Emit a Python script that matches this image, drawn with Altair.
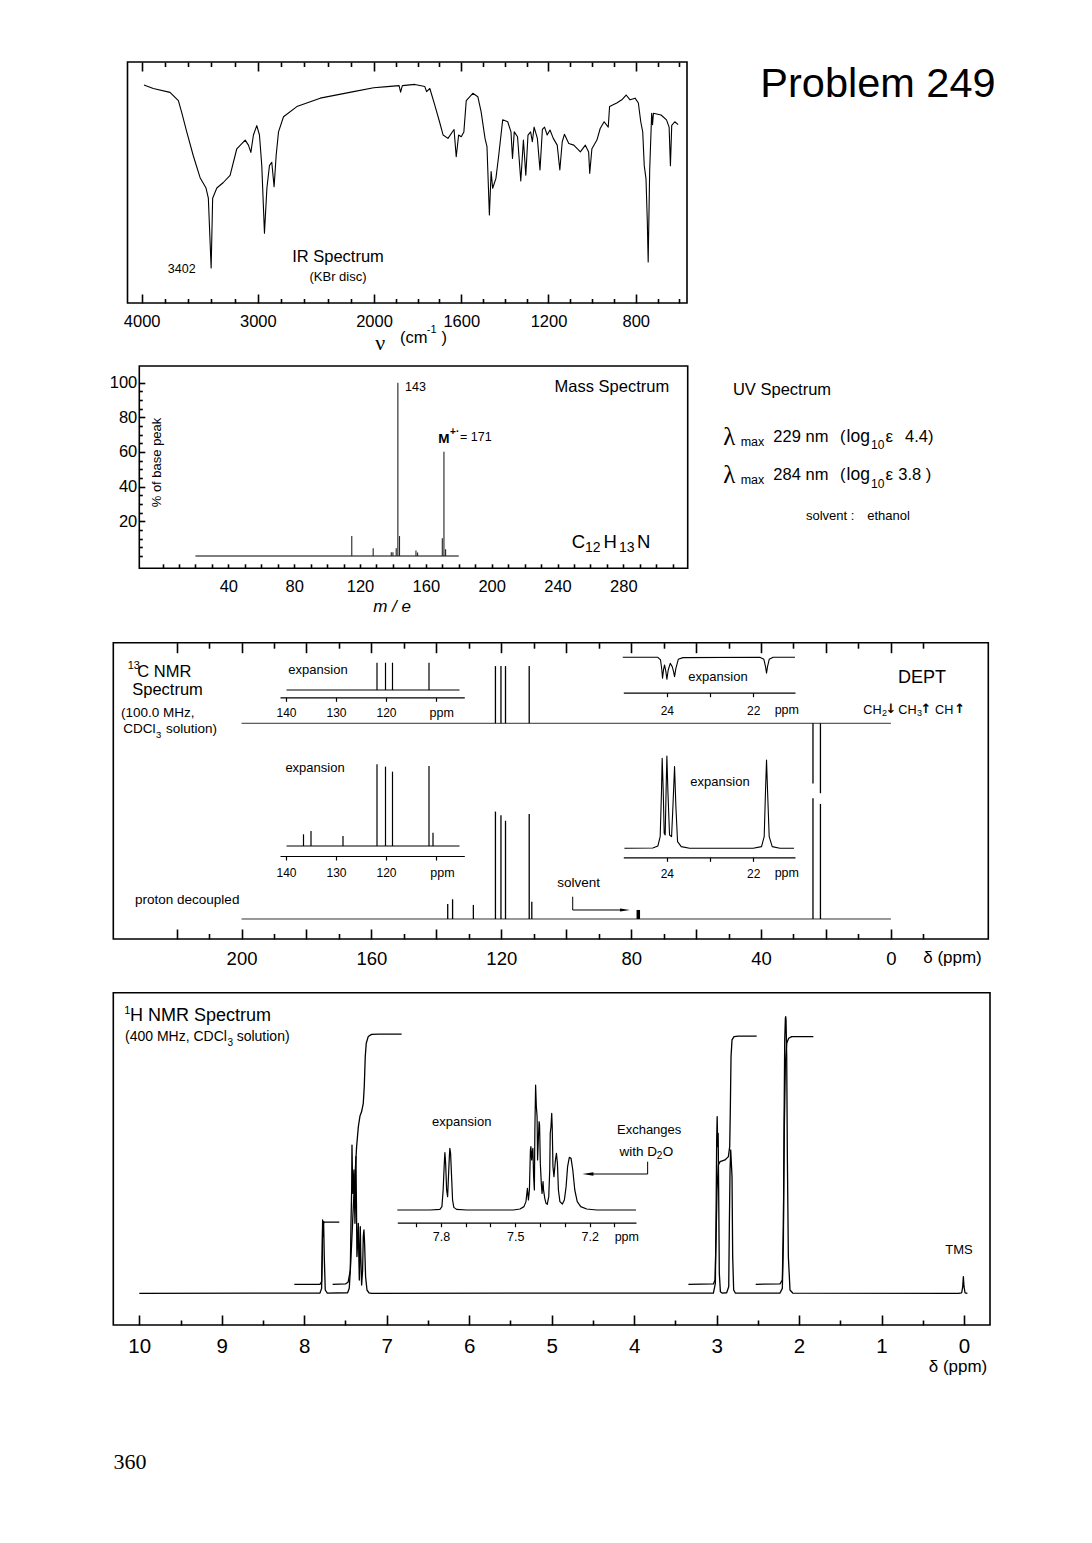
import altair as alt
import pandas as pd

FONT = "Liberation Sans, Arial, Helvetica, sans-serif"
SERIF = "Liberation Serif, Times New Roman, serif"
SYM = "DejaVu Sans, Liberation Sans, sans-serif"
W, H = 1076, 1527

# ======================= DATA =======================
# IR spectrum (wavenumber cm-1, %T)
ir_wn = [3980, 3900, 3756, 3684, 3655, 3612, 3555, 3497, 3446, 3426,
         3402, 3389, 3353, 3297, 3239, 3181, 3109, 3081, 3060, 3038,
         3009, 2986, 2966, 2943, 2922, 2900, 2880, 2860, 2842, 2822,
         2779, 2664, 2463, 2176, 2003, 1940, 1885, 1878, 1870, 1813,
         1767, 1759, 1744, 1721, 1699, 1683, 1661, 1633, 1623, 1612,
         1600, 1588, 1577, 1547, 1524, 1509, 1491, 1482, 1471, 1463,
         1456, 1441, 1428, 1410, 1387, 1372, 1365, 1357, 1342, 1327,
         1315, 1304, 1294, 1282, 1274, 1266, 1251, 1239, 1228, 1218,
         1206, 1193, 1178, 1160, 1148, 1137, 1127, 1107, 1084, 1054,
         1031, 1016, 1011, 1001, 978, 963, 945, 926, 920, 887,
         864, 844, 826, 803, 788, 777, 768, 761, 753, 747,
         743, 736, 727, 723, 719, 684, 659, 647, 641, 635,
         621, 606]
ir_t = [90.5, 89.0, 87.4, 84.0, 79.0, 71.0, 61.0, 52.0, 47.7, 43.5,
        14.5, 43.5, 47.7, 50.0, 53.0, 64.0, 67.6, 65.5, 62.5, 69.7,
        73.6, 69.7, 57.0, 29.0, 47.6, 57.0, 58.4, 48.3, 61.4, 71.0,
        77.3, 81.5, 85.0, 87.7, 89.3, 89.8, 90.2, 87.5, 90.2, 90.7,
        89.8, 87.7, 89.0, 82.0, 75.0, 69.7, 68.3, 72.0, 60.7, 69.7,
        69.0, 71.0, 84.0, 87.0, 85.6, 79.4, 68.3, 64.9, 36.5, 54.5,
        47.6, 51.7, 61.4, 76.0, 75.2, 71.0, 60.0, 71.0, 69.0, 50.6,
        67.6, 53.0, 69.7, 71.0, 66.9, 73.0, 68.3, 55.2, 72.0, 73.0,
        69.7, 71.8, 68.3, 65.5, 55.2, 66.9, 70.0, 66.2, 65.5, 62.7,
        65.5, 62.7, 53.8, 64.0, 67.6, 72.4, 75.2, 73.0, 81.5, 83.0,
        84.3, 86.3, 84.3, 85.0, 83.0, 75.2, 71.0, 57.0, 51.6, 34.0,
        17.0, 55.3, 78.7, 74.0, 78.7, 78.0, 76.0, 73.0, 57.0, 73.7,
        75.2, 74.0]
ir_major = [4000, 3000, 2000, 1600, 1200, 800]
ir_minor = [3800, 3600, 3400, 3200, 2800, 2600, 2400, 2200, 1900, 1800, 1700,
            1500, 1400, 1300, 1100, 1000, 900, 700, 600]

# Mass spectrum (m/e, % of base peak)
ms_mz = [115, 128, 139, 140, 142, 143, 144, 154, 155, 170, 171, 172]
ms_int = [11.5, 4.4, 2.1, 2.1, 4.4, 100, 11.5, 3.1, 2.0, 10.2, 60.2, 3.9]
ms_span = [20, 180]
ms_xlab = [40, 80, 120, 160, 200, 240, 280]
ms_xtick = list(range(0, 320, 10))
ms_ylab = [20, 40, 60, 80, 100]
ms_yminor = [0, 5, 10, 15, 25, 30, 35, 45, 50, 55, 65, 70, 75, 85, 90, 95]

# 13C NMR (ppm, intensity in panel units)
c13_ch = [121.8, 120.1, 118.7, 111.4]
c13_q = [136.5, 135.0, 128.6, 110.6]
c13_ch2 = [24.0, 21.7]
c13_solv = 77.8
dept_base = 72.8
dept_ch_top = [92.1, 92.1, 92.1, 92.1]
dept_ch2_bot = [52.5, 49.2]
dec_base = 6.75
dec_ch_top = [43.0, 41.8, 39.9, 42.2]
dec_q_top = [11.8, 13.4, 11.5, 12.6]
dec_ch2_top = [47.5, 45.6]
solv_top = 9.8
# expansions
exp_ar_span = [139.9, 105.3]
exp_dept_ch = [100, 100, 100, 100]
exp_dec_ch = [100, 97.1, 91.0, 97.9]
exp_dec_q = [14.3, 18.4, 12.2, 16.3]
dept_exp_ppm = [25.023, 24.209, 24.147, 24.116, 24.101, 24.078, 24.054, 24.023, 24.000, 23.969,
                23.922, 23.876, 23.845, 23.822, 23.791, 23.736, 23.628,
                21.845, 21.752, 21.713, 21.690, 21.667, 21.628, 21.535, 21.031]
dept_exp_int = [0, 0, -12.1, -57.6, -95.5, -57.6, -34.8, -65.2, -100, -57.6,
                -27.3, -42.4, -65.2, -87.9, -50.0, -9.1, -1.5,
                0, -9.1, -42.4, -72.7, -42.4, -9.1, 0, 0]
dec_exp_ppm = [24.984, 24.326, 24.209, 24.155, 24.124, 24.109, 24.085, 24.062, 24.039, 24.016,
               24.000, 23.977, 23.938, 23.891, 23.860, 23.822, 23.791, 23.752, 23.667, 23.473,
               22.000, 21.806, 21.744, 21.713, 21.690, 21.667, 21.628, 21.558, 21.380, 21.054]
dec_exp_int = [0, 0.4, 2.5, 12.6, 63.2, 97.5, 63.2, 16.3, 14.4, 66.8,
               100, 63.2, 14.4, 12.6, 45.1, 88.5, 45.1, 7.2, 1.8, 0,
               0, 1.8, 12.6, 63.2, 95.7, 63.2, 12.6, 1.8, 0, 0]
c13_labels = [200, 160, 120, 80, 40, 0]
c13_major = list(range(220, -1, -20))
c13_minor = list(range(210, -11, -20))

# 1H NMR (ppm, intensity)
h1_ppm = [10.000, 7.829, 7.809, 7.789, 7.781, 7.777, 7.771, 7.765, 7.757, 7.745, 7.720,
          7.474, 7.454, 7.441, 7.433, 7.425, 7.421, 7.415, 7.409, 7.401, 7.397,
          7.391, 7.385, 7.377, 7.373, 7.367, 7.361, 7.353, 7.344, 7.338, 7.332,
          7.324, 7.320, 7.314, 7.304, 7.292, 7.284, 7.276, 7.268, 7.256, 7.239, 7.215, 7.183,
          3.039, 3.015, 3.007, 2.999, 2.993, 2.987, 2.981, 2.975, 2.967, 2.954, 2.934,
          2.878, 2.853, 2.845, 2.837, 2.829, 2.821, 2.813, 2.805, 2.793, 2.773,
          2.231, 2.203, 2.190, 2.182, 2.174, 2.166, 2.162, 2.158, 2.150, 2.142, 2.130, 2.110, 2.077,
          0.068, 0.028, 0.016, 0.008, 0.000, -0.012, -0.041]
h1_int = [0, 0.1, 0.1, 1.8, 18.1, 26.5, 20.5, 25.9, 13.3, 1.2, 0.1,
          0.2, 1.8, 8.4, 25.3, 37.3, 53.6, 42.2, 36.1, 42.2, 44.6,
          34.9, 25.3, 42.2, 49.4, 32.5, 13.3, 18.1, 25.3, 13.3, 4.8,
          18.1, 24.1, 13.3, 3.0, 8.4, 20.5, 22.9, 18.1, 6.0, 1.2, 0.2, 0,
          0.1, 3.6, 25.3, 55.4, 63.9, 53.0, 57.8, 37.3, 7.2, 0.6, 0.1,
          0.2, 2.4, 25.3, 44.6, 51.8, 47.0, 42.2, 13.3, 1.2, 0.1,
          0.1, 1.8, 19.3, 61.4, 91.6, 99.4, 100, 98.8, 85.5, 49.4, 13.3, 1.2, 0.1,
          0, 0.2, 2.4, 6.0, 2.4, 0.2, 0]
int1_ppm = [8.120, 7.809, 7.789, 7.781, 7.777, 7.769, 7.757, 7.728, 7.575]
int1_val = [3.25, 3.25, 4.2, 13.3, 22.9, 25.3, 25.7, 25.7, 25.7]
int2_ppm = [7.656, 7.499, 7.467, 7.441, 7.425, 7.405, 7.385, 7.365, 7.344, 7.324,
            7.304, 7.284, 7.272, 7.260, 7.248, 7.224, 7.183, 7.102, 6.819]
int2_val = [3.25, 3.4, 4.1, 8.4, 18.1, 31.3, 42.2, 53.0, 60.2, 64.1,
            65.7, 68.7, 74.7, 85.5, 90.4, 92.8, 93.6, 93.7, 93.7]
int3_ppm = [3.342, 3.039, 3.019, 3.007, 2.995, 2.979, 2.958, 2.898, 2.857, 2.841,
            2.833, 2.825, 2.813, 2.789, 2.736, 2.514]
int3_val = [3.25, 3.4, 4.8, 19.3, 37.3, 46.4, 47.6, 48.2, 49.4, 53.0,
            67.5, 85.5, 91.6, 92.8, 93.0, 93.0]
int4_ppm = [2.526, 2.231, 2.203, 2.190, 2.178, 2.166, 2.150, 2.126, 2.089, 2.029, 1.827]
int4_val = [3.25, 3.4, 4.8, 25.3, 61.4, 83.1, 90.4, 92.2, 92.8, 92.8, 92.8]
h1x_ppm = [7.976, 7.844, 7.804, 7.796, 7.791, 7.787, 7.784, 7.781, 7.777, 7.773,
           7.769, 7.766, 7.764, 7.761, 7.757, 7.753, 7.748, 7.737, 7.696, 7.508,
           7.481, 7.465, 7.457, 7.451, 7.447, 7.443, 7.439, 7.437, 7.434, 7.431,
           7.429, 7.426, 7.423, 7.421, 7.418, 7.415, 7.412, 7.410, 7.407, 7.404,
           7.402, 7.399, 7.395, 7.392, 7.388, 7.386, 7.381, 7.376, 7.371, 7.365,
           7.361, 7.359, 7.356, 7.353, 7.351, 7.348, 7.344, 7.338, 7.334, 7.330,
           7.326, 7.320, 7.310, 7.302, 7.295, 7.289, 7.282, 7.275, 7.268, 7.260,
           7.250, 7.236, 7.212, 7.172, 7.013]
h1x_int = [0, 0, 0.5, 2.7, 16.0, 34.7, 45.9, 37.3, 16.0, 10.7,
           29.3, 42.7, 49.3, 45.3, 26.7, 8.0, 2.1, 0.5, 0, 0,
           0.8, 2.7, 6.7, 17.3, 8.0, 16.0, 48.0, 50.7, 40.0, 46.7,
           49.3, 26.7, 16.0, 64.0, 100, 82.7, 74.7, 40.0, 56.0, 70.7,
           68.0, 37.3, 21.3, 13.3, 22.7, 16.0, 9.3, 5.3, 4.5, 10.7,
           32.0, 61.3, 66.7, 77.3, 66.7, 34.7, 26.7, 40.0, 45.3, 37.3,
           16.0, 6.7, 4.8, 8.0, 18.7, 34.7, 42.1, 41.3, 32.0, 16.0,
           6.7, 2.7, 0.8, 0, 0]
h1_labels = list(range(10, -1, -1))
h1_minor = [9.5, 8.5, 7.5, 6.5, 5.5, 4.5, 3.5, 2.5, 1.5, 0.5]
h1x_ticks = [7.9, 7.8, 7.7, 7.6, 7.5, 7.4, 7.3, 7.2, 7.1]

# ======================= HELPERS =======================
layers = []


class Panel:
    def __init__(self, xdom, xrng, ydom, yrng):
        self.xdom, self.ydom = xdom, ydom
        self.xs = alt.Scale(domain=xdom, range=xrng, nice=False, zero=False)
        self.ys = alt.Scale(domain=ydom, range=yrng, nice=False, zero=False)

    def enc(self, xaxis=None, yaxis=None):
        return dict(x=alt.X('x:Q', scale=self.xs, axis=xaxis),
                    y=alt.Y('y:Q', scale=self.ys, axis=yaxis))


def ax(orient, offset, values, tick=0, labels=False, pad=0, fs=12, expr=None,
       fmt='d', tw=1.6, domain=False):
    d = dict(orient=orient, offset=offset, values=values, domain=domain, grid=False,
             title=None, ticks=tick > 0, tickSize=tick, tickColor='black', tickWidth=tw,
             labels=labels)
    if domain:
        d.update(domainColor='black', domainWidth=1.2)
    if labels:
        d.update(labelFont=FONT, labelFontSize=fs, labelColor='black', labelPadding=pad,
                 labelFlush=False, labelOverlap=False, labelAngle=0, labelBound=False,
                 format=fmt)
        if orient in ('top', 'bottom'):
            d['labelBaseline'] = 'middle'
        if expr:
            d['labelExpr'] = expr
    return alt.Axis(**d)


def add_axis(p, xaxis=None, yaxis=None):
    df = pd.DataFrame({'x': [p.xdom[0]], 'y': [p.ydom[0]]})
    layers.append(alt.Chart(df).mark_point(opacity=0, size=1).encode(**p.enc(xaxis, yaxis)))


def add_frame(p, w=1.6):
    df = pd.DataFrame({'x': [p.xdom[0]], 'x2': [p.xdom[-1]], 'y': [p.ydom[0]], 'y2': [p.ydom[-1]]})
    layers.append(alt.Chart(df).mark_rect(fillOpacity=0, stroke='black', strokeWidth=w)
                  .encode(**p.enc(), x2=alt.X2('x2'), y2=alt.Y2('y2')))


def add_line(p, series, w=1.2, color='black'):
    xs, ys, gs = [], [], []
    for g, (sx_, sy_) in enumerate(series):
        xs += list(sx_)
        ys += list(sy_)
        gs += [g] * len(sx_)
    df = pd.DataFrame({'x': xs, 'y': ys, 'g': gs, 'i': range(len(xs))})
    layers.append(alt.Chart(df).mark_line(strokeWidth=w, color=color, strokeJoin='round')
                  .encode(**p.enc(), order='i:Q', detail='g:N'))


def add_sticks(p, xs, y0, y1, w=1.2, color='black'):
    y0 = y0 if isinstance(y0, list) else [y0] * len(xs)
    df = pd.DataFrame({'x': xs, 'y': y0, 'y2': y1})
    layers.append(alt.Chart(df).mark_rule(strokeWidth=w, color=color)
                  .encode(**p.enc(), y2=alt.Y2('y2')))


def add_hline(p, x0, x1, y, w=1.1, color='black'):
    df = pd.DataFrame({'x': [x0], 'x2': [x1], 'y': [y]})
    layers.append(alt.Chart(df).mark_rule(strokeWidth=w, color=color)
                  .encode(**p.enc(), x2=alt.X2('x2')))


def add_text(p, rows, align='center', font=FONT, **mk):
    df = pd.DataFrame(rows, columns=['t', 'x', 'y', 's'])
    layers.append(alt.Chart(df).mark_text(align=align, baseline='middle', font=font,
                                          color='black', **mk)
                  .encode(**p.enc(), text='t:N', size=alt.Size('s:Q', scale=None, legend=None)))


def add_arrowhead(p, x, y, path, size):
    df = pd.DataFrame({'x': [x], 'y': [y]})
    layers.append(alt.Chart(df).mark_point(shape=path, size=size, filled=True, color='black',
                                           opacity=1, strokeWidth=0).encode(**p.enc()))


# ======================= PANELS =======================
PAGE = Panel([0, 1], [-8, 1084], [0, 1], [1535, -8])
IR = Panel([4122, 2000, 565], [119.5, 366, 679], [0, 100], [295, 54])
MS = Panel([-14.1, 319.1], [131.3, 679.7], [-7.1, 109.6], [560.3, 358])
C13 = Panel([239.5, -30], [105.3, 980.3], [0, 100], [931, 634.7])
C13_TL = Panel([141.2, 104.34], [272, 456.3], [0, 100], [682, 654.7])
C13_BL = Panel([141.2, 104.34], [272, 456.3], [0, 100], [838, 756.3])
C13_TR = Panel([25.01, 21.03], [615.3, 787], [-100, 0], [671.3, 649.3])
C13_BR = Panel([25.01, 21.03], [615.3, 787], [0, 100], [840.3, 748])
H1 = Panel([10.315, -0.315], [105.3, 982], [-11.45, 108.66], [1317, 984.7])
H1_IN = Panel([7.976, 7.013], [389.3, 628], [0, 100], [1202, 1077])

# ---------- page texts ----------
add_text(PAGE, [("Problem 249", 0.8040, 0.9449, 41.5)])
add_text(PAGE, [("360", 0.1190, 0.0525, 22)], font=SERIF)
add_text(PAGE, [("λ", 0.6624, 0.7170, 25), ("λ", 0.6624, 0.6922, 25)], align='left', font=SERIF)
add_text(PAGE, [("UV Spectrum", 0.6712, 0.7472, 16.5),
                ("max", 0.6783, 0.7137, 12.5), ("max", 0.6783, 0.6889, 12.5),
                ("229 nm", 0.7082, 0.7170, 16.5), ("284 nm", 0.7082, 0.6922, 16.5),
                ("(", 0.7692, 0.7170, 16.5), ("(", 0.7692, 0.6922, 16.5),
                ("log", 0.7752, 0.7170, 17.5), ("log", 0.7752, 0.6922, 17.5),
                ("10", 0.7976, 0.7116, 12), ("10", 0.7976, 0.6866, 12),
                ("ε", 0.8109, 0.7170, 17), ("ε", 0.8109, 0.6922, 17),
                ("4.4)", 0.8288, 0.7170, 16.5), ("3.8 )", 0.8226, 0.6922, 16.5),
                ("solvent :", 0.7381, 0.6656, 13), ("ethanol", 0.7942, 0.6656, 13)],
         align='left')

# ---------- IR ----------
add_frame(IR)
add_line(IR, [(ir_wn, ir_t)], w=1.1)
add_axis(IR, xaxis=ax('bottom', 295 - H, ir_major, labels=True, pad=18.7, fs=16.5))
add_axis(IR, xaxis=ax('top', -295, ir_major, tick=9))
add_axis(IR, xaxis=ax('top', -295, ir_minor, tick=4.5))
add_axis(IR, xaxis=ax('bottom', 54 - H, ir_major, tick=9))
add_axis(IR, xaxis=ax('bottom', 54 - H, ir_minor, tick=4.5))
add_text(IR, [("3402", 3655, 14.1, 12.5), ("IR Spectrum", 2310, 19.2, 16.5),
              ("(KBr disc)", 2310, 10.9, 13)])
add_text(IR, [("ν", 1972, -16.4, 22)], font=SERIF)
add_text(IR, [("(cm", 1881, -14.7, 16.5), ("-1", 1758, -11.3, 11), (")", 1690, -14.7, 16.5)],
         align='left')

# ---------- Mass spectrum ----------
add_frame(MS)
add_hline(MS, ms_span[0], ms_span[1], 0, w=1.1)
add_sticks(MS, ms_mz, 0, ms_int, w=1.1, color='#222')
add_axis(MS, xaxis=ax('bottom', 560.3 - H, ms_xlab, labels=True, pad=18.4, fs=16.5),
         yaxis=ax('left', -131.3, ms_ylab, labels=True, pad=2.5, fs=16.5))
add_axis(MS, xaxis=ax('top', -560.3, ms_xtick, tick=4.5),
         yaxis=ax('right', 131.3 - W, ms_ylab, tick=5.5))
add_axis(MS, yaxis=ax('right', 131.3 - W, ms_yminor, tick=3))
add_text(MS, [("143", 147.4, 97.7, 12.5), ("= 171", 180.8, 68.5, 12.5)], align='left')
add_text(MS, [("M", 167.6, 67.3, 13.5), ("+·", 174.7, 71.7, 10)], align='left', fontWeight='bold')
add_text(MS, [("Mass Spectrum", 273, 97.5, 16.5)])
add_text(MS, [("C", 248.65, 7.9, 18.5), ("12", 256.73, 4.44, 14), ("H", 268.0, 7.9, 18.5),
              ("13", 277.39, 4.44, 14), ("N", 288.33, 7.9, 18.5)], align='left')
add_text(MS, [("% of base peak", -3.5, 53.95, 13)], angle=270)
add_text(MS, [("m / e", 139.5, -29.4, 17)], fontStyle='italic')

# ---------- 13C ----------
add_frame(C13)
add_hline(C13, 200, 0, dept_base, w=1.0, color='#333')
add_sticks(C13, c13_ch, dept_base, dept_ch_top, w=1.3)
add_sticks(C13, c13_ch2, dept_base, dept_ch2_bot, w=1.3)
add_hline(C13, 200, 0, dec_base, w=1.0, color='#333')
add_sticks(C13, c13_ch + c13_q + c13_ch2, dec_base, dec_ch_top + dec_q_top + dec_ch2_top, w=1.3)
add_sticks(C13, [c13_solv], dec_base, [solv_top], w=3.5)
add_line(C13, [([98.0, 98.0, 83.4], [14.28, 9.79, 9.79])], w=1.0)
add_arrowhead(C13, 81.9, 9.79, "M 1 0 L -1 -0.32 L -1 0.32 Z", 100)
add_axis(C13, xaxis=ax('bottom', 931 - H, c13_labels, labels=True, pad=19, fs=18.5))
add_axis(C13, xaxis=ax('top', -931, c13_major, tick=10))
add_axis(C13, xaxis=ax('top', -931, c13_minor, tick=5.5))
add_axis(C13, xaxis=ax('bottom', 634.7 - H, c13_major, tick=10))
add_axis(C13, xaxis=ax('bottom', 634.7 - H, c13_minor, tick=5.5))
add_text(C13, [("13", 235.06, 92.14, 11), ("C NMR", 232.1, 90.21, 16.5),
               ("(100.0 MHz,", 237.1, 76.37, 13.5),
               ("CDCl", 236.4, 70.77, 13.5), ("3", 226.35, 68.85, 9.5),
               ("solution)", 223.3, 70.77, 13.5),
               ("proton decoupled", 232.8, 13.16, 13.5),
               ("CH", 8.50, 77.29, 12.7), ("2", 2.74, 76.2, 9),
               ("CH", -2.28, 77.29, 12.7), ("3", -8.04, 76.2, 9),
               ("CH", -13.58, 77.29, 12.7)],
         align='left')
add_text(C13, [("↓", 1.7, 77.5, 13), ("↑", -9.1, 77.5, 13), ("↑", -19.5, 77.5, 13)],
         align='left', font=SYM, fontWeight='bold')
add_text(C13, [("Spectrum", 222.8, 84.04, 16.5), ("expansion", 176.45, 90.79, 13),
               ("expansion", 177.37, 57.81, 13), ("expansion", 53.25, 88.52, 13),
               ("expansion", 52.64, 52.89, 13), ("DEPT", -9.58, 87.98, 18),
               ("solvent", 96.16, 19.0, 13.5), ("δ (ppm)", -18.97, -6.41, 17)])

# 13C expansions
add_hline(C13_TL, exp_ar_span[0], exp_ar_span[1], 0, w=1.0)
add_sticks(C13_TL, c13_ch, 0, exp_dept_ch, w=1.2)
add_axis(C13_TL, xaxis=ax('bottom', 689.3 - H, [140, 130, 120, 110], tick=4, labels=True,
                          pad=11.4, fs=12, expr="datum.value == 110 ? '' : datum.label",
                          domain=True, tw=1.2))
add_text(C13_TL, [("ppm", 108.86, -83.2, 12.5)])

add_hline(C13_BL, exp_ar_span[0], exp_ar_span[1], 0, w=1.0)
add_sticks(C13_BL, c13_ch + c13_q, 0, exp_dec_ch + exp_dec_q, w=1.2)
add_axis(C13_BL, xaxis=ax('bottom', 848 - H, [140, 130, 120, 110], tick=4, labels=True,
                          pad=12.7, fs=12, expr="datum.value == 110 ? '' : datum.label",
                          domain=True, tw=1.2))
add_text(C13_BL, [("ppm", 108.7, -32.7, 12.5)])

add_line(C13_TR, [(dept_exp_ppm, dept_exp_int)], w=1.1)
add_axis(C13_TR, xaxis=ax('bottom', 684.7 - H, [24, 23, 22], tick=4, labels=True, pad=13.3,
                          fs=12, expr="datum.value == 23 ? '' : datum.label", domain=True, tw=1.2))
add_text(C13_TR, [("ppm", 21.22, -239.5, 12.5)])

add_line(C13_BR, [(dec_exp_ppm, dec_exp_int)], w=1.1)
add_axis(C13_BR, xaxis=ax('bottom', 849.3 - H, [24, 23, 22], tick=4, labels=True, pad=12,
                          fs=12, expr="datum.value == 23 ? '' : datum.label", domain=True, tw=1.2))
add_text(C13_BR, [("ppm", 21.22, -27.1, 12.5)])

# ---------- 1H ----------
add_frame(H1)
add_line(H1, [(h1_ppm, h1_int)], w=1.3)
add_line(H1, [(int1_ppm, int1_val), (int2_ppm, int2_val), (int3_ppm, int3_val),
              (int4_ppm, int4_val)], w=1.3)
add_axis(H1, xaxis=ax('bottom', 1317 - H, h1_labels, labels=True, pad=21.7, fs=20.5))
add_axis(H1, xaxis=ax('top', -1317, h1_labels, tick=10))
add_axis(H1, xaxis=ax('top', -1317, h1_minor, tick=5))
add_text(H1, [("1", 10.182, 102.16, 11), ("H NMR Spectrum", 10.113, 100.24, 18),
              ("(400 MHz, CDCl", 10.173, 92.54, 14), ("3", 8.930, 90.37, 10),
              ("solution)", 8.819, 92.54, 14)], align='left')
add_text(H1, [("TMS", 0.061, 15.66, 13), ("δ (ppm)", 0.073, -26.52, 17)])

add_line(H1_IN, [(h1x_ppm, h1x_int)], w=1.2)
add_line(H1_IN, [([6.966, 6.966, 7.20], [38.64, 28.8, 28.8])], w=1.0)
add_arrowhead(H1_IN, 7.207, 28.8, "M -1 0 L 1 -0.32 L 1 0.32 Z", 121)
add_axis(H1_IN, xaxis=ax('bottom', 1214.7 - H, h1x_ticks, tick=4, labels=True, pad=10, fs=12.5,
                         fmt='.1f', domain=True, tw=1.2,
                         expr="indexof(['7.8','7.5','7.2'], datum.label) >= 0 ? datum.label : ''"))
add_text(H1_IN, [("expansion", 7.716, 70.16, 13), ("Exchanges", 6.960, 64.0, 13),
                 ("ppm", 7.050, -21.36, 12.5)])
add_text(H1_IN, [("with D", 7.080, 46.64, 13.5), ("2", 6.929, 43.2, 10),
                 ("O", 6.905, 46.64, 13.5)], align='left')

# ======================= CHART =======================
chart = (alt.layer(*layers)
         .resolve_scale(x='independent', y='independent')
         .properties(width=W, height=H, padding=0,
                     autosize=alt.AutoSizeParams(type='none'), background='white')
         .configure_view(stroke=None))

chart.save("out.html", embed_options={"renderer": "svg", "actions": False})
